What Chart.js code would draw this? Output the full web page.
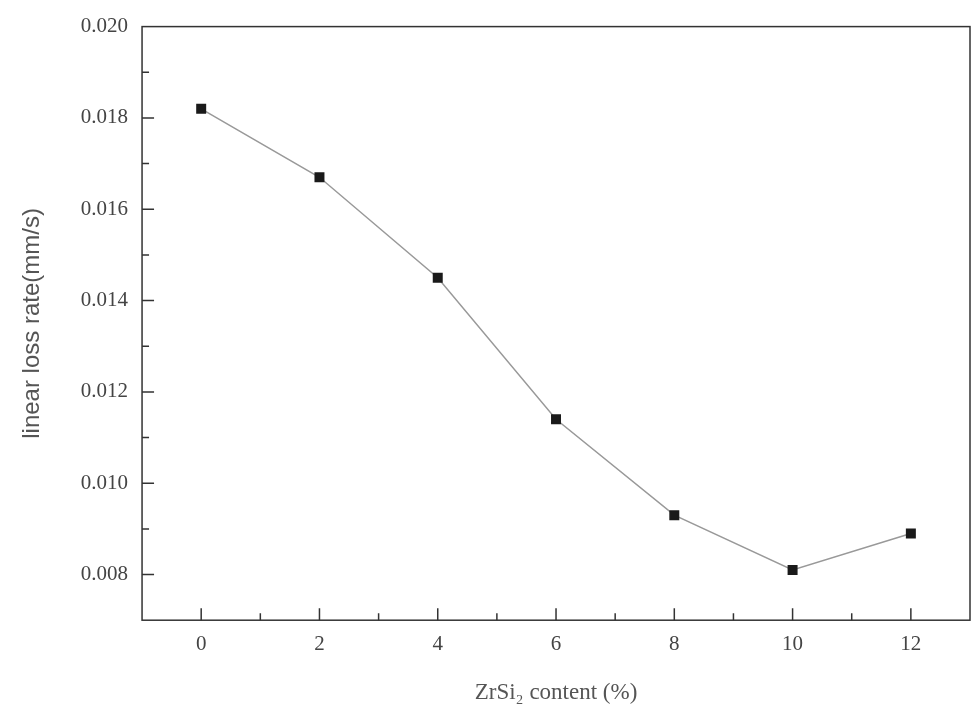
<!DOCTYPE html>
<html>
<head>
<script src="https://cdn.jsdelivr.net/npm/chart.js@4/dist/chart.umd.min.js"></script>
<style>
  html, body { margin: 0; padding: 0; background: #fff; }
  #wrap { width: 979px; height: 721px; }
</style>
</head>
<body>
<div id="wrap"><canvas id="chart1"></canvas></div>
<script>
var contentPct = [0, 2, 4, 6, 8, 10, 12];
var lossRate = [0.0182, 0.0167, 0.0145, 0.0114, 0.0093, 0.0081, 0.0089];
var xTicks = [0, 2, 4, 6, 8, 10, 12];
var yTicks = [0.008, 0.010, 0.012, 0.014, 0.016, 0.018, 0.020];

// inward ticks, major and minor, like the original plot
var innerTicks = {
  id: 'innerTicks',
  afterDraw: function(chart) {
    var ctx = chart.ctx;
    var a = chart.chartArea;
    var xs = chart.scales.x, ys = chart.scales.y;
    ctx.save();
    ctx.strokeStyle = '#333';
    ctx.lineWidth = 1.5;
    ctx.beginPath();
    for (var v = -1; v <= 13; v++) {
      var px = xs.getPixelForValue(v);
      if (px <= a.left + 1 || px >= a.right - 1) continue;
      var len = (v % 2 === 0) ? 12 : 7;
      ctx.moveTo(px, a.bottom); ctx.lineTo(px, a.bottom - len);
    }
    for (var k = 7; k <= 20; k++) {
      var py = ys.getPixelForValue(k / 1000);
      if (py <= a.top + 1 || py >= a.bottom - 1) continue;
      var l2 = (k % 2 === 0) ? 12 : 7;
      ctx.moveTo(a.left, py); ctx.lineTo(a.left + l2, py);
    }
    ctx.stroke();
    ctx.strokeRect(a.left, a.top, a.right - a.left, a.bottom - a.top);
    ctx.restore();
  }
};

var points = contentPct.map(function(x, i) { return {x: x, y: lossRate[i]}; });

new Chart(document.getElementById('chart1').getContext('2d'), {
  type: 'line',
  data: {
    datasets: [{
      data: points,
      borderColor: '#999',
      borderWidth: 1.5,
      pointStyle: 'rect',
      pointRadius: 6,
      pointBackgroundColor: '#1a1a1a',
      pointBorderColor: '#1a1a1a',
      tension: 0
    }]
  },
  options: {
    responsive: true,
    maintainAspectRatio: false,
    animation: false,
    layout: { padding: { top: 2, right: 9, left: 14, bottom: 10 } },
    plugins: { legend: { display: false }, tooltip: { enabled: false } },
    scales: {
      x: {
        type: 'linear',
        min: -1, max: 13,
        afterBuildTicks: function(s) { s.ticks = xTicks.map(function(v) { return {value: v}; }); },
        grid: { display: false, drawTicks: false },
        border: { display: false },
        ticks: { color: '#444', padding: 12, font: { family: 'Liberation Serif', size: 21 } },
        title: { display: true, text: 'ZrSi\u2082 content (%)', color: '#555',
          font: { family: 'Liberation Serif', size: 23 }, padding: { top: 10 } }
      },
      y: {
        min: 0.007, max: 0.020,
        afterBuildTicks: function(s) { s.ticks = yTicks.map(function(v) { return {value: v}; }); },
        grid: { display: false, drawTicks: false },
        border: { display: false },
        ticks: { color: '#444', padding: 14, font: { family: 'Liberation Serif', size: 21 },
          callback: function(v) { return v.toFixed(3); } },
        title: { display: true, text: 'linear loss rate(mm/s)', color: '#555',
          font: { family: 'Liberation Sans', size: 24 }, padding: { bottom: 20 } }
      }
    }
  },
  plugins: [innerTicks]
});
</script>
</body>
</html>
